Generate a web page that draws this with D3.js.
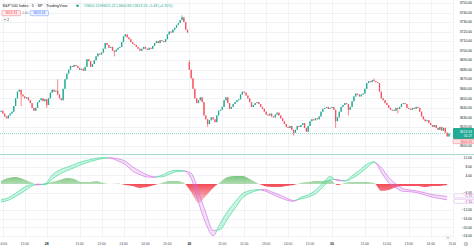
<!DOCTYPE html>
<html>
<head>
<meta charset="utf-8">
<script src="https://cdn.jsdelivr.net/npm/d3@7"></script>
<style>
  html, body { margin: 0; padding: 0; background: #fff; }
  svg { display: block; font-family: "Liberation Sans", Arial, sans-serif; }
</style>
</head>
<body>
<div id="chart"></div>
<script>
// 5 minute closes, one array per trading day
const closes27 = [3637, 3634, 3631, 3629, 3632, 3634, 3636, 3642, 3650, 3657, 3659, 3654, 3652, 3650, 3651, 3648, 3645, 3640, 3637, 3640, 3646, 3648, 3650, 3647, 3649];
const closes28 = [
  3643, 3650, 3656, 3659, 3657, 3658, 3654, 3650, 3648, 3660,
  3670, 3676, 3680, 3684, 3683, 3685, 3684, 3682, 3680, 3681,
  3679, 3683, 3691, 3689, 3683, 3686, 3690, 3694, 3697, 3696,
  3698, 3702, 3708, 3706, 3703, 3704, 3700, 3699, 3701, 3703,
  3704, 3709, 3715, 3717, 3714, 3712, 3709, 3707, 3706, 3704,
  3702, 3700, 3702, 3704, 3702, 3701, 3703, 3702, 3705, 3708,
  3710, 3708, 3711, 3710, 3709, 3712, 3717, 3720, 3719, 3722,
  3724, 3727, 3729, 3732, 3735, 3730, 3722, 3719];
const closes29 = [
  3680, 3671, 3660, 3650, 3645, 3648, 3651, 3646, 3632, 3628,
  3623, 3627, 3630, 3628, 3625, 3632, 3637, 3638, 3641, 3648,
  3651, 3645, 3639, 3641, 3644, 3646, 3648, 3649, 3654, 3657,
  3656, 3653, 3650, 3646, 3641, 3643, 3645, 3646, 3644, 3641,
  3639, 3636, 3633, 3632, 3634, 3631, 3630, 3633, 3635, 3632,
  3629, 3626, 3623, 3620, 3619, 3621, 3617, 3614, 3617, 3621,
  3620, 3622, 3624, 3619, 3615, 3621, 3626, 3628, 3627, 3629,
  3628, 3631, 3636, 3639, 3640, 3641, 3639, 3640];
const closes30 = [
  3641, 3638, 3626, 3630, 3636, 3641, 3643, 3645, 3644, 3638,
  3641, 3647, 3652, 3655, 3654, 3652, 3654, 3655, 3660, 3666,
  3668, 3667, 3669, 3668, 3667, 3666, 3657, 3650, 3648, 3645,
  3643, 3640, 3638, 3638, 3637, 3640, 3639, 3641, 3644, 3645,
  3644, 3640, 3639, 3638, 3640, 3639, 3641, 3640, 3636, 3631,
  3628, 3626, 3627, 3624, 3622, 3620, 3622, 3619, 3617, 3620,
  3616, 3619, 3614, 3610, 3613];

const sessions = [
  { day: '27', start: '13:55', open: 3636, opening: false },
  { day: '28', start: '09:30', open: 3649, opening: true },
  { day: '29', start: '09:30', open: 3688, opening: true },
  { day: '30', start: '09:30', open: 3640, opening: true }
];

// visible wicks (bar index, high, low)
const wicks = [
  { i: 11, lo: 3642 }, { i: 25, lo: 3640 }, { i: 31, hi: 3670 }, { i: 62, lo: 3694 },
  { i: 99, hi: 3737 }, { i: 103, hi: 3690 }, { i: 113, lo: 3620 }, { i: 160, lo: 3611 },
  { i: 183, lo: 3619 }, { i: 190, lo: 3632 }, { i: 204, hi: 3671 }, { i: 217, lo: 3634 }
];

const priceTicks = [3750, 3740, 3730, 3720, 3710, 3700, 3690, 3680, 3670, 3660, 3650, 3640, 3630, 3620, 3600];
const oscTicks = [12, 8, 4, -4, -12, -16, -20, -24];

// oscillator sampled every 4 bars
const oscStep = 4;
const oscFast = [
  -7.3, -6.3, -4.3, -1.9, -0.4, -0.4, 0.0, 4.2, 6.5, 7.7,
  9.0, 10.3, 11.1, 11.9, 12.2, 11.9, 10.6, 8.9, 5.9, 4.3,
  3.2, 3.1, 4.1, 5.7, 6.3, 6.1, 2.5, -8.5, -18.2, -23.9,
  -17.9, -12.5, -8.2, -4.5, -3.1, -2.6, -3.1, -4.6, -6.1, -7.4,
  -8.0, -6.1, -5.0, -2.9, 0.5, 3.5, 1.5, 1.5, 3.8, 6.3,
  9.1, 10.3, 5.4, 0.6, -1.8, -3.4, -3.6, -4.1, -5.1, -6.1,
  -6.7, -7.3];
const oscSlow = [
  -8.3, -7.5, -5.8, -3.7, -1.4, 0.0, -0.4, 2.2, 4.5, 6.1,
  7.5, 9.0, 10.1, 11.1, 11.8, 12.1, 11.6, 10.5, 7.9, 5.9,
  4.2, 3.3, 3.3, 4.5, 5.7, 5.9, 5.0, -3.5, -13.2, -21.4,
  -20.9, -16.0, -11.2, -6.5, -4.3, -3.0, -2.5, -3.6, -4.9, -6.4,
  -7.6, -6.9, -6.0, -4.5, -1.5, 2.0, 2.1, 1.3, 2.6, 4.7,
  7.5, 9.9, 7.6, 3.1, 0.0, -2.2, -2.8, -3.3, -4.1, -4.9,
  -5.3, -5.7];
const oscHist = [
  1.4, 2.8, 3.2, 2.3, 0.9, -0.2, 0.3, 0.9, 1.8, 2.8,
  2.3, 0.9, 0.9, 1.4, 0.5, 0.0, 0.2, -0.5, -0.9, -1.8,
  -1.4, -0.5, 0.5, 1.4, 1.4, 0.5, -3.7, -8.8, -5.5, -1.8,
  0.9, 3.2, 3.7, 3.7, 2.3, 0.5, -0.9, -1.4, -1.4, -0.9,
  -0.5, 0.5, 0.9, 1.4, 1.4, 1.8, -0.5, 0.5, 0.9, 0.9,
  0.9, 0.5, -3.2, -2.8, -1.4, -0.9, -0.9, -0.9, -1.4, -0.9,
  -0.9, -0.5];

const W = 474, H = 249;
const paneRight = 452;
const oscTop = 155, oscBottom = 238;
const up = '#22ab94', down = '#f7525f';
const mint = '#3fd996', violet = '#cf6fe2';
const grid = '#f1f2f5';
const ink = '#131722';

const svg = d3.select('#chart').append('svg')
  .attr('width', W).attr('height', H).attr('viewBox', `0 0 ${W} ${H}`);
const defs = svg.append('defs');

// bar timeline (continues to 16:00 on the last day for the axis)
const closes = [...closes27, ...closes28, ...closes29, ...closes30];
const timeline = [];
const openAt = new Map();
sessions.forEach((s) => {
  const [h, m] = s.start.split(':').map(Number);
  const start = h * 60 + m;
  openAt.set(timeline.length, s.open);
  for (let t = start; t < 16 * 60; t += 5) {
    timeline.push({ day: s.day, t, first: t === start && s.opening, sinceOpen: t - 570, opening: s.opening });
  }
});
timeline.forEach((d, i) => { d.i = i; });

const candles = closes.map((c, i) => {
  const o = openAt.has(i) ? openAt.get(i) : closes[i - 1];
  const w = wicks.find((d) => d.i === i) || {};
  return { i, o, c, h: Math.max(o, c, w.hi ?? -Infinity), l: Math.min(o, c, w.lo ?? Infinity) };
});

const x = d3.scaleLinear().domain([0, closes.length - 1]).range([1, 449]);
const y = d3.scaleLinear().domain([3600, 3750]).range([146, 3]);
const yo = d3.scaleLinear().domain([-24, 12]).range([236, 158]);

const timeTicks = timeline.filter((d) => d.first || (d.t % 60 === 0 && (!d.opening || d.sinceOpen >= 60)))
  .filter((d) => x(d.i) < 458);

// grid
const gridG = svg.append('g').attr('stroke', grid).attr('stroke-width', 1).attr('shape-rendering', 'crispEdges');
gridG.selectAll('.vg').data(timeTicks).join('line')
  .attr('x1', (d) => Math.round(x(d.i)) + 0.5).attr('x2', (d) => Math.round(x(d.i)) + 0.5)
  .attr('y1', 0).attr('y2', oscBottom);
gridG.selectAll('.hg').data(priceTicks).join('line')
  .attr('x1', 0).attr('x2', paneRight).attr('y1', (d) => Math.round(y(d)) + 0.5).attr('y2', (d) => Math.round(y(d)) + 0.5);
gridG.selectAll('.og').data(oscTicks).join('line')
  .attr('x1', 0).attr('x2', paneRight).attr('y1', (d) => Math.round(yo(d)) + 0.5).attr('y2', (d) => Math.round(yo(d)) + 0.5);

// last price line
const last = candles[candles.length - 1];
svg.append('line')
  .attr('x1', 0).attr('x2', paneRight).attr('y1', y(last.c)).attr('y2', y(last.c))
  .attr('stroke', up).attr('stroke-opacity', 0.5).attr('stroke-dasharray', '1,1');

// candles
const candleG = svg.append('g');
candleG.selectAll('line').data(candles).join('line')
  .attr('x1', (d) => x(d.i)).attr('x2', (d) => x(d.i))
  .attr('y1', (d) => y(d.h)).attr('y2', (d) => y(d.l))
  .attr('stroke', (d) => (d.c >= d.o ? up : down)).attr('stroke-width', 0.7);
candleG.selectAll('rect').data(candles).join('rect')
  .attr('x', (d) => x(d.i) - 0.65).attr('width', 1.3)
  .attr('y', (d) => y(Math.max(d.o, d.c)))
  .attr('height', (d) => Math.max(1, Math.abs(y(d.o) - y(d.c))))
  .attr('fill', (d) => (d.c >= d.o ? up : down));

// pane separator
svg.append('line').attr('x1', 0).attr('x2', W).attr('y1', 154.5).attr('y2', 154.5)
  .attr('stroke', '#a9dbd3').attr('stroke-width', 1);

// oscillator
const osc = oscFast.map((f, k) => ({ i: k * oscStep, f, s: oscSlow[k], h: oscHist[k] }));
const curve = d3.curveMonotoneX;

const gGreen = defs.append('linearGradient').attr('id', 'histGreen').attr('gradientUnits', 'userSpaceOnUse')
  .attr('x1', 0).attr('x2', 0).attr('y1', yo(4)).attr('y2', yo(0));
gGreen.append('stop').attr('offset', 0).attr('stop-color', '#56b35a').attr('stop-opacity', 0.8);
gGreen.append('stop').attr('offset', 1).attr('stop-color', '#56b35a').attr('stop-opacity', 0.45);
const gRed = defs.append('linearGradient').attr('id', 'histRed').attr('gradientUnits', 'userSpaceOnUse')
  .attr('x1', 0).attr('x2', 0).attr('y1', yo(0)).attr('y2', yo(-9));
gRed.append('stop').attr('offset', 0).attr('stop-color', '#f23645').attr('stop-opacity', 0.9);
gRed.append('stop').attr('offset', 1).attr('stop-color', '#f23645').attr('stop-opacity', 0.2);

defs.append('clipPath').attr('id', 'histPos').append('rect')
  .attr('x', 0).attr('width', paneRight).attr('y', oscTop).attr('height', yo(0) - oscTop);
defs.append('clipPath').attr('id', 'histNeg').append('rect')
  .attr('x', 0).attr('width', paneRight).attr('y', yo(0)).attr('height', oscBottom - yo(0));

const histArea = d3.area().x((d) => x(d.i)).y0(yo(0)).y1((d) => yo(d.h)).curve(curve);
svg.append('path').attr('d', histArea(osc)).attr('fill', 'url(#histGreen)').attr('clip-path', 'url(#histPos)');
svg.append('path').attr('d', histArea(osc)).attr('fill', 'url(#histRed)').attr('clip-path', 'url(#histNeg)');

defs.append('clipPath').attr('id', 'aboveFast').append('path')
  .attr('d', d3.area().x((d) => x(d.i)).y0(oscTop).y1((d) => yo(d.f)).curve(curve)(osc));
defs.append('clipPath').attr('id', 'belowFast').append('path')
  .attr('d', d3.area().x((d) => x(d.i)).y0(oscBottom).y1((d) => yo(d.f)).curve(curve)(osc));

svg.append('path').attr('clip-path', 'url(#belowFast)')
  .attr('d', d3.area().x((d) => x(d.i)).y0(oscTop).y1((d) => yo(d.s)).curve(curve)(osc))
  .attr('fill', mint).attr('fill-opacity', 0.28);
svg.append('path').attr('clip-path', 'url(#aboveFast)')
  .attr('d', d3.area().x((d) => x(d.i)).y0((d) => yo(d.s)).y1(oscBottom).curve(curve)(osc))
  .attr('fill', violet).attr('fill-opacity', 0.22);

const grad = defs.append('linearGradient').attr('id', 'ribbonStroke').attr('gradientUnits', 'userSpaceOnUse')
  .attr('x1', x(osc[0].i)).attr('x2', x(osc[osc.length - 1].i)).attr('y1', 0).attr('y2', 0);
const span = osc[osc.length - 1].i - osc[0].i;
const col = (d) => (d.f >= d.s ? mint : violet);
grad.append('stop').attr('offset', 0).attr('stop-color', col(osc[0]));
for (let k = 1; k < osc.length; k++) {
  const a = osc[k - 1], b = osc[k];
  const da = a.f - a.s, db = b.f - b.s;
  if ((da >= 0) !== (db >= 0)) {
    const off = (a.i + (da / (da - db)) * (b.i - a.i) - osc[0].i) / span;
    grad.append('stop').attr('offset', off).attr('stop-color', col(a));
    grad.append('stop').attr('offset', off).attr('stop-color', col(b));
  }
}
grad.append('stop').attr('offset', 1).attr('stop-color', col(osc[osc.length - 1]));

['f', 's'].forEach((key) => {
  svg.append('path')
    .attr('d', d3.line().x((d) => x(d.i)).y((d) => yo(d[key])).curve(curve)(osc))
    .attr('fill', 'none').attr('stroke', 'url(#ribbonStroke)').attr('stroke-width', 0.65);
});

// price axis
const fmt = d3.format('.2f');
svg.append('g').attr('font-size', 3.4).attr('fill', ink).attr('text-anchor', 'end')
  .selectAll('text').data(priceTicks).join('text')
  .attr('x', 472).attr('y', (d) => y(d) + 1.2).text((d) => fmt(d));
svg.append('g').attr('font-size', 3.4).attr('fill', ink).attr('text-anchor', 'end')
  .selectAll('text').data(oscTicks).join('text')
  .attr('x', 472).attr('y', (d) => yo(d) + 1.2).text((d) => fmt(d));

// time axis
const timeFmt = (d) => (d.first ? d.day : `${String(Math.floor(d.t / 60)).padStart(2, '0')}:00`);
defs.append('clipPath').attr('id', 'timeClip').append('rect').attr('x', 0).attr('y', oscBottom).attr('width', 456).attr('height', 12);
svg.append('g').attr('clip-path', 'url(#timeClip)').attr('font-size', 3.4).attr('fill', '#4a4d57').attr('text-anchor', 'middle')
  .selectAll('text').data(timeTicks).join('text')
  .attr('x', (d) => x(d.i)).attr('y', 245)
  .attr('font-weight', (d) => (d.first ? 'bold' : null))
  .attr('fill', (d) => (d.first ? ink : null))
  .text(timeFmt);

// price tags
const tagY = y(last.c);
svg.append('rect').attr('x', 453).attr('y', tagY - 5.5).attr('width', 21).attr('height', 11).attr('rx', 1).attr('fill', up);
svg.append('text').attr('x', 472).attr('y', tagY - 1).attr('font-size', 3.4).attr('fill', '#fff').attr('text-anchor', 'end').text(fmt(last.c + 0.13));
svg.append('text').attr('x', 472).attr('y', tagY + 3.5).attr('font-size', 3.2).attr('fill', '#fff').attr('text-anchor', 'end').text('01:27');
svg.append('rect').attr('x', 453).attr('y', tagY + 5.5).attr('width', 21).attr('height', 4.5).attr('rx', 1)
  .attr('fill', '#fde6e8').attr('stroke', '#f7525f').attr('stroke-width', 0.4);
svg.append('text').attr('x', 472).attr('y', tagY + 9).attr('font-size', 3.2).attr('fill', '#f23645').attr('text-anchor', 'end').text('3604.83');

// oscillator tags
const lastOsc = osc[osc.length - 1];
[lastOsc.s, lastOsc.f].forEach((v, k) => {
  const ty = yo(v) + (k === 0 ? -0.5 : 1.5);
  svg.append('rect').attr('x', 454).attr('y', ty - 2).attr('width', 20).attr('height', 4).attr('rx', 0.8)
    .attr('fill', '#fff').attr('stroke', '#d8a6e4').attr('stroke-width', 0.5);
  svg.append('text').attr('x', 472).attr('y', ty + 1.2).attr('font-size', 3.2).attr('fill', '#9c3fb0')
    .attr('text-anchor', 'end').text(fmt(v));
});

// corner icons
svg.append('circle').attr('cx', 448).attr('cy', 237.5).attr('r', 2.6).attr('fill', '#fff').attr('stroke', '#dfe1e6').attr('stroke-width', 0.5);
svg.append('circle').attr('cx', 448).attr('cy', 237.5).attr('r', 0.7).attr('fill', '#787b86');
svg.append('circle').attr('cx', 466).attr('cy', 244).attr('r', 1.8).attr('fill', 'none').attr('stroke', '#787b86').attr('stroke-width', 0.5);
svg.append('circle').attr('cx', 466).attr('cy', 244).attr('r', 0.6).attr('fill', 'none').attr('stroke', '#787b86').attr('stroke-width', 0.4);

// header
const head = svg.append('g').attr('font-size', 3.9);
head.append('text').attr('x', 2.5).attr('y', 7).attr('fill', ink).text('S&P 500 Index · 5 · SP · TradingView');
head.append('circle').attr('cx', 77.5).attr('cy', 5.8).attr('r', 1.3).attr('fill', up);
head.append('text').attr('x', 84).attr('y', 7).attr('fill', up).attr('font-size', 3.5)
  .text('O3610.13 H3615.22 L3604.83 C3613.13 +5.48 (+0.15%)');

head.append('rect').attr('x', 2).attr('y', 10.5).attr('width', 18.5).attr('height', 5.2).attr('rx', 1)
  .attr('fill', '#fdeced').attr('stroke', '#f7525f').attr('stroke-width', 0.4);
head.append('text').attr('x', 11.25).attr('y', 14.2).attr('text-anchor', 'middle').attr('font-size', 3.2).attr('fill', '#f23645').text('3613.13');
head.append('text').attr('x', 25.3).attr('y', 14.2).attr('text-anchor', 'middle').attr('font-size', 3).attr('fill', '#787b86').text('0.00');
head.append('rect').attr('x', 30).attr('y', 10.5).attr('width', 18.5).attr('height', 5.2).attr('rx', 1)
  .attr('fill', '#eaf0fe').attr('stroke', '#5b8def').attr('stroke-width', 0.4);
head.append('text').attr('x', 39.25).attr('y', 14.2).attr('text-anchor', 'middle').attr('font-size', 3.2).attr('fill', '#2962ff').text('3613.13');

head.append('rect').attr('x', 2).attr('y', 17.3).attr('width', 8.5).attr('height', 4.4).attr('rx', 1)
  .attr('fill', '#fff').attr('stroke', '#e0e3eb').attr('stroke-width', 0.4);
head.append('path').attr('d', 'M3.6,20.3 L4.8,18.9 L6,20.3').attr('fill', 'none').attr('stroke', ink).attr('stroke-width', 0.45);
head.append('text').attr('x', 7.2).attr('y', 20.7).attr('font-size', 3).attr('fill', ink).text('2');
</script>
</body>
</html>
